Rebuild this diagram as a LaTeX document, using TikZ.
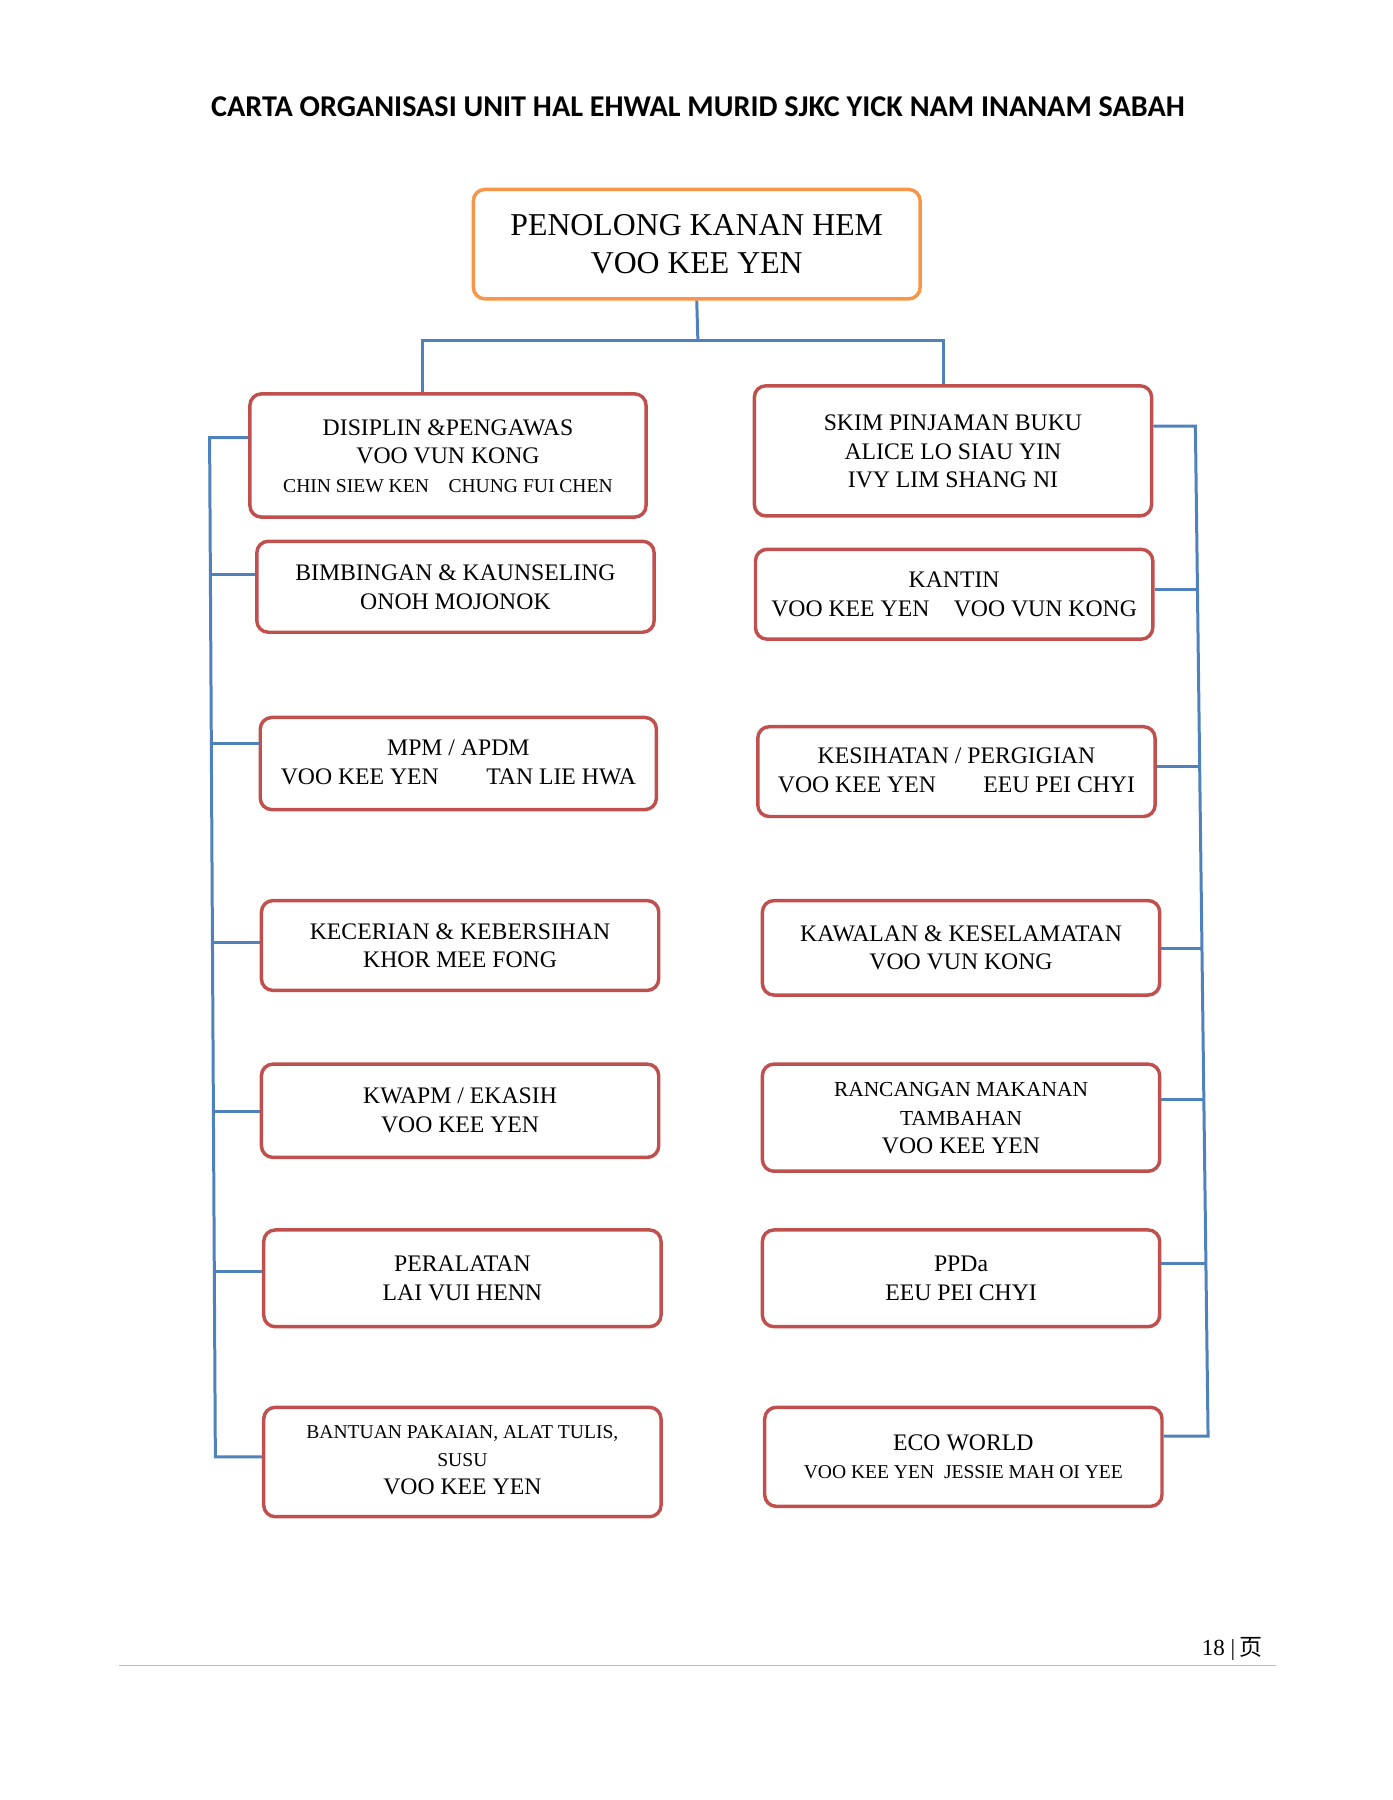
\documentclass[tikz,border=0pt]{standalone}
\usepackage{fontspec}
\setmainfont{Liberation Serif}
\newfontfamily\titlefont{Carlito}
\newfontfamily\cjkfont{Noto Sans CJK SC}
\begin{document}
\begin{tikzpicture}[x=0.5pt,y=-0.5pt,
  box/.style={draw=redb,line width=1.5pt,rounded corners=5pt,inner sep=0pt},
  txt/.style={align=center,inner sep=0pt,font=\fontsize{10.3}{12.3}\selectfont},
  link/.style={draw=blueb,line width=1.3pt}]
\definecolor{redb}{HTML}{C0504D}
\definecolor{orangeb}{HTML}{F79646}
\definecolor{blueb}{HTML}{4F81BD}
\useasboundingbox (0,0) rectangle (1209,1563);
\node[font=\titlefont\bfseries\fontsize{13.1}{16}\selectfont] (title) at (606,93) {CARTA ORGANISASI UNIT HAL EHWAL MURID SJKC YICK NAM INANAM SABAH};
\newcommand{\bx}[7]{\node[box,minimum width={(#4-#2)*0.5pt},minimum height={(#5-#3)*0.5pt}] (#1) at ({(#2+#4)/2},{(#3+#5)/2}) {};
  \node[txt] (#1t) at ({(#2+#4)/2},#6) {#7};}
\node[box,draw=orangeb,minimum width=194pt,minimum height=47.5pt] (top) at (605,212) {};
\node[txt,font=\fontsize{13.8}{16.5}\selectfont] (topt) at (605,212) {PENOLONG KANAN HEM\\VOO KEE YEN};
\bx{L1}{217}{342}{561}{449}{396}{DISIPLIN \&PENGAWAS\\VOO VUN KONG\\{\fontsize{8.5}{11}\selectfont CHIN SIEW KEN\quad CHUNG FUI CHEN}}
\bx{L2}{223}{470}{568}{549}{510}{BIMBINGAN \& KAUNSELING\\ONOH MOJONOK}
\bx{L3}{226}{623}{570}{703}{662}{MPM / APDM\\VOO KEE YEN\qquad TAN LIE HWA}
\bx{L4}{227}{782}{572}{860}{821}{KECERIAN \& KEBERSIHAN\\KHOR MEE FONG}
\bx{L5}{227}{924}{572}{1005}{964}{KWAPM / EKASIH\\VOO KEE YEN}
\bx{L6}{229}{1068}{574}{1152}{1110}{PERALATAN\\LAI VUI HENN}
\bx{L7}{229}{1222}{574}{1317}{1268}{{\fontsize{8.5}{9.5}\selectfont BANTUAN PAKAIAN, ALAT TULIS,}\\{\fontsize{8.5}{10.5}\selectfont SUSU}\\VOO KEE YEN}
\bx{R1}{655}{335}{1000}{448}{392}{SKIM PINJAMAN BUKU\\ALICE LO SIAU YIN\\IVY LIM SHANG NI}
\bx{R2}{656}{477}{1001}{555}{516}{KANTIN\\VOO KEE YEN\enspace\; VOO VUN KONG}
\bx{R3}{658}{631}{1003}{709}{669}{KESIHATAN / PERGIGIAN\\VOO KEE YEN\qquad EEU PEI CHYI}
\bx{R4}{662}{782}{1007}{864}{823}{KAWALAN \& KESELAMATAN\\VOO VUN KONG}
\bx{R5}{662}{924}{1007}{1017}{971}{{\fontsize{9.3}{11.5}\selectfont RANCANGAN MAKANAN}\\{\fontsize{9.3}{11.5}\selectfont TAMBAHAN}\\VOO KEE YEN}
\bx{R6}{662}{1068}{1007}{1152}{1110}{PPDa\\EEU PEI CHYI}
\bx{R7}{664}{1222}{1009}{1308}{1265}{ECO WORLD\\{\fontsize{8.5}{11}\selectfont VOO KEE YEN\enspace JESSIE MAH OI YEE}}
% top tree
\coordinate (hl) at (367,296);
\coordinate (hr) at (819,296);
\draw[link] (top.south) -- (606,296);
\draw[link] (L1.north -| hl) -- (hl) -- (hr) -- (R1.north -| hr);
% left spine
\coordinate (ls1) at (182,380);
\coordinate (ls7) at (187,1265);
\draw[link] (L1.west |- ls1) -- (ls1) -- (ls7) -- (L7.west |- ls7);
\foreach \n/\y/\x in {L2/499/183,L3/646/184,L4/818/185,L5/965/185.5,L6/1104/186}
  \draw[link] (\x,\y) -- (\n.west |- 0,\y);
% right spine
\coordinate (rs1) at (1038,370);
\coordinate (rs7) at (1049,1247);
\draw[link] (R1.east |- rs1) -- (rs1) -- (rs7) -- (R7.east |- rs7);
\foreach \n/\y/\x in {R2/512/1040,R3/666/1042,R4/824/1044,R5/955/1046,R6/1097/1048}
  \draw[link] (\x,\y) -- (\n.east |- 0,\y);
% footer
\node[anchor=east,font=\fontsize{10}{12}\selectfont] (pg) at (1103,1432) {18 |\,{\cjkfont 页}};
\draw[gray!50,line width=0.6pt] (103,1446) -- (1108,1446);
\end{tikzpicture}
\end{document}
